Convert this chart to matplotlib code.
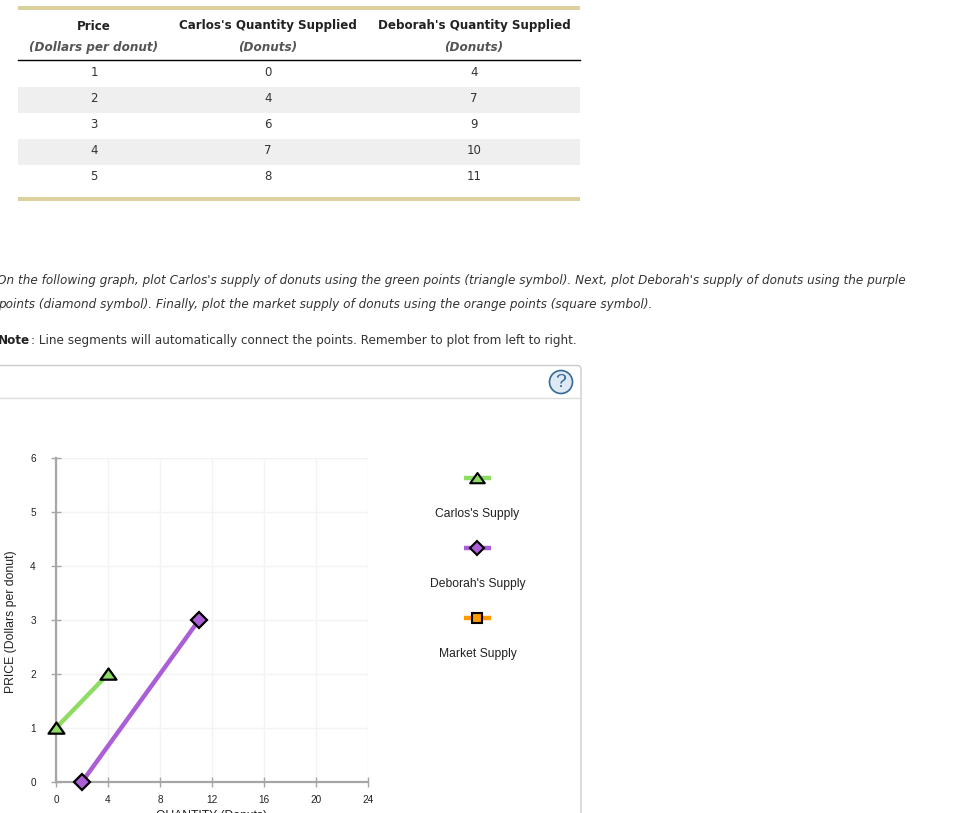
import matplotlib
matplotlib.use("Agg")
import matplotlib.pyplot as plt
from matplotlib.patches import Rectangle, Circle, FancyBboxPatch
from matplotlib.path import Path

price = [1, 2, 3, 4, 5]
carlos_qty = [0, 4, 6, 7, 8]
deborah_qty = [4, 7, 9, 10, 11]

headers = ["Price", "Carlos's Quantity Supplied", "Deborah's Quantity Supplied"]
subheaders = ["(Dollars per donut)", "(Donuts)", "(Donuts)"]

carlos_x = [0, 4]
carlos_y = [1, 2]
deborah_x = [2, 11]
deborah_y = [0, 3]

x_ticks = [0, 4, 8, 12, 16, 20, 24]
y_ticks = [0, 1, 2, 3, 4, 5, 6]

green = "#8fdc64"
purple = "#ab5fd6"
orange = "#ff9a00"
axis_gray = "#a6a6a6"
grid_gray = "#f3f3f3"

# flatter triangle than the stock "^"
wide_tri = Path([(-1, -0.65), (1, -0.65), (0, 0.75), (-1, -0.65)], closed=True)

W, H = 954, 813
fig = plt.figure(figsize=(W / 100, H / 100), dpi=100)

# full page layer, in pixels
page = fig.add_axes([0, 0, 1, 1])
page.set_xlim(0, W)
page.set_ylim(H, 0)
page.axis("off")

# table
sans = "DejaVu Sans"
page.add_patch(Rectangle((18, 6), 562, 4, color="#dcd09f", lw=0))
page.add_patch(Rectangle((18, 197), 562, 4, color="#dcd09f", lw=0))
page.plot([18, 580], [60.5, 60.5], color="black", lw=1)
page.add_patch(Rectangle((18, 87), 562, 26, color="#efefef", lw=0))
page.add_patch(Rectangle((18, 139), 562, 26, color="#efefef", lw=0))

col_x = [94, 268, 474]
for cx, head, sub in zip(col_x, headers, subheaders):
    page.text(cx, 26, head, ha="center", va="center", family=sans, fontsize=8.6,
              weight="bold", color="#222222")
    page.text(cx, 48, sub, ha="center", va="center", family=sans, fontsize=8.65,
              style="italic", weight="bold", color="#555555")

for i in range(len(price)):
    yy = 73 + 26 * i
    page.text(col_x[0], yy, str(price[i]), ha="center", va="center", family=sans, fontsize=8.5, color="#333333")
    page.text(col_x[1], yy, str(carlos_qty[i]), ha="center", va="center", family=sans, fontsize=8.5, color="#333333")
    page.text(col_x[2], yy, str(deborah_qty[i]), ha="center", va="center", family=sans, fontsize=8.5, color="#333333")

# instructions
page.text(-3, 280, "On the following graph, plot Carlos's supply of donuts using the green points (triangle symbol). "
          "Next, plot Deborah's supply of donuts using the purple", va="center", family=sans, fontsize=8.65,
          style="italic", color="#333333")
page.text(-2, 304, "points (diamond symbol). Finally, plot the market supply of donuts using the orange points (square symbol).",
          va="center", family=sans, fontsize=8.65, style="italic", color="#333333")
page.text(-2, 340, "Note", va="center", family=sans, fontsize=8.65, weight="bold", color="#222222")
page.text(31, 340, ": Line segments will automatically connect the points. Remember to plot from left to right.",
          va="center", family=sans, fontsize=8.62, color="#333333")

# graph frame
page.add_patch(FancyBboxPatch((-20, 365.5), 601, 480, boxstyle="round,pad=0,rounding_size=4",
                              fc="white", ec="#cccccc", lw=1))
page.plot([0, 581], [397.5, 397.5], color="#dddddd", lw=1)
page.add_patch(Circle((561, 382), 11.5, fc="#dfe9f3", ec="#34699c", lw=1.2))
page.text(561, 382.5, "?", ha="center", va="center", family="Liberation Sans", fontsize=14, color="#34699c")

# plot area: x 56-368 px, y 458-782 px
ax = fig.add_axes([56 / W, 1 - 782 / H, 312 / W, 324 / H])
ax.patch.set_alpha(0)
ax.set_xlim(0, 24)
ax.set_ylim(0, 6)
ax.set_xticks(x_ticks)
ax.set_yticks(y_ticks)
ax.grid(True, color=grid_gray, lw=1)
ax.set_axisbelow(True)
for side in ["top", "right"]:
    ax.spines[side].set_visible(False)
for side in ["left", "bottom"]:
    ax.spines[side].set_color(axis_gray)
    ax.spines[side].set_linewidth(1.6)
ax.tick_params(axis="both", direction="inout", length=7, width=1, color=axis_gray,
               labelsize=7.2, labelcolor="#222222")
ax.tick_params(axis="x", pad=6)
ax.tick_params(axis="y", pad=11)
for lab in ax.get_xticklabels() + ax.get_yticklabels():
    lab.set_family("Liberation Sans")

ax.plot(carlos_x, carlos_y, color=green, lw=3.2, marker=wide_tri, ms=11.5, mfc=green,
        mec="black", mew=1.6, clip_on=False, zorder=5)
ax.plot(deborah_x, deborah_y, color=purple, lw=3.2, marker="D", ms=8.5, mfc=purple,
        mec="black", mew=1.6, clip_on=False, zorder=5)

page.text(11, 622, "PRICE (Dollars per donut)", rotation=90, ha="center", va="center",
          family="Liberation Sans", fontsize=8.8, color="#222222")
page.text(212, 816, "QUANTITY (Donuts)", ha="center", va="center",
          family="Liberation Sans", fontsize=8.7, color="#222222")

# legend
legend_names = ["Carlos's Supply", "Deborah's Supply", "Market Supply"]
legend_colors = [green, purple, orange]
legend_markers = [wide_tri, "D", "s"]
legend_sizes = [10.5, 7.5, 7.5]
for i in range(3):
    yy = 477.5 + 70 * i
    page.plot([464, 491], [yy, yy], color=legend_colors[i], lw=3.2, solid_capstyle="butt", zorder=4)
    page.plot([477.5], [yy], marker=legend_markers[i], ms=legend_sizes[i], mfc=legend_colors[i],
              mec="black", mew=1.5, ls="none", zorder=5)
    page.text(477.5, yy + 36, legend_names[i], ha="center", va="center",
              family="Liberation Sans", fontsize=8.7, color="#222222")

fig.savefig("out.png", dpi=100)
